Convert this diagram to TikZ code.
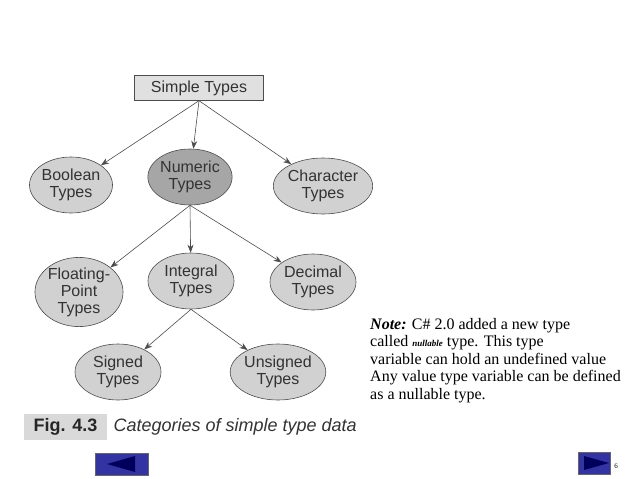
\documentclass[tikz,border=0pt]{standalone}
\usepackage{fontspec}
\setmainfont{Liberation Serif}
\setsansfont{Liberation Sans}
\usetikzlibrary{shapes.geometric,arrows.meta}
\begin{document}
\begin{tikzpicture}[x=1pt,y=-1pt,
  ell/.style={ellipse,draw=black!70,fill=black!18,line width=0.6pt,minimum width=#1,minimum height=56pt,inner sep=0pt,align=center,font=\sffamily\fontsize{16}{17}\selectfont,text=black!80},
  ell/.default=76pt,
  arr/.style={-{Stealth[length=8pt,width=6pt]},draw=black!70,line width=0.6pt},
  btn/.style={draw=black!60,fill=blue!55!black!80,minimum width=#1,minimum height=22pt,inner sep=0pt}]
\useasboundingbox (0,0) rectangle (638,479);
\node[draw=black!70,fill=black!12,minimum width=129pt,minimum height=25pt,font=\sffamily\fontsize{16}{17}\selectfont,text=black!80] (st) at (199,88) {Simple Types};
\node[ell] (bo) at (71,185) {Boolean\\Types};
\node[ell,fill=black!35] (nu) at (190,177) {Numeric\\Types};
\node[ell] (ch) at (323,186) {Character\\Types};
\node[ell=86pt,minimum height=64pt] (fl) at (79,292) {Floating-\\Point\\Types};
\node[ell=86pt] (in) at (191,281) {Integral\\Types};
\node[ell=86pt] (de) at (313,282) {Decimal\\Types};
\node[ell=86pt] (si) at (118,372) {Signed\\Types};
\node[ell=86pt] (un) at (278,372) {Unsigned\\Types};
\draw[arr] (st.south) -- (bo);
\draw[arr] (st.south) -- (nu);
\draw[arr] (st.south) -- (ch);
\draw[arr] (nu.south) -- (fl);
\draw[arr] (nu.south) -- (in);
\draw[arr] (nu.south) -- (de);
\draw[arr] (in.south) -- (si);
\draw[arr] (in.south) -- (un);
\node[fill=black!15,minimum width=83pt,minimum height=26pt,font=\sffamily\bfseries\fontsize{18}{19}\selectfont,text=black!85] (fig) at (65.5,427) {Fig. 4.3};
\node[anchor=west,font=\sffamily\itshape\fontsize{18}{19}\selectfont,text=black!80] (cap) at (110,427) {Categories of simple type data};
\node[anchor=north west,align=left,font=\fontsize{16}{17.5}\selectfont,inner sep=0pt] (note) at (370,318) {\textbf{\textit{Note:}} C\# 2.0 added a new type\\called \textit{\textbf{\small nullable}} type. This type\\variable can hold an undefined value\\Any value type variable can be defined\\as a nullable type.};
\node[btn=53pt] (lb) at (121.5,464) {};
\fill[black!40!blue!60!black] (107,464) -- (135,456) -- (135,472) -- cycle;
\node[btn=32pt] (rb) at (594,463) {};
\fill[black!40!blue!60!black] (609,463) -- (584,456) -- (584,470) -- cycle;
\node[font=\fontsize{7}{7}\selectfont] (pg) at (616,466) {6};
\end{tikzpicture}
\end{document}
